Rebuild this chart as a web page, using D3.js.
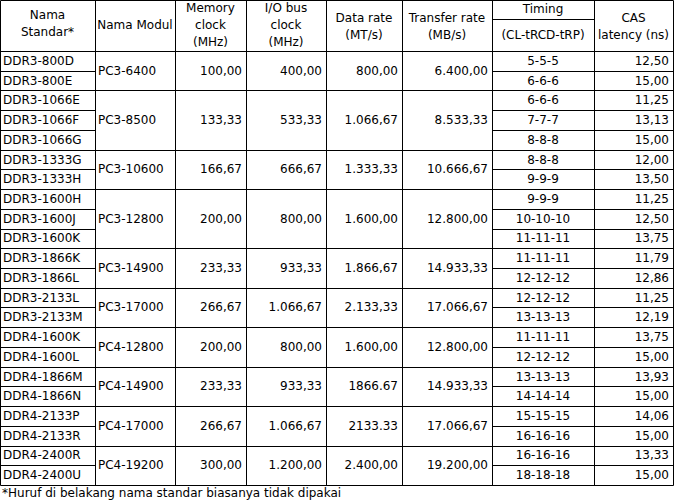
<!DOCTYPE html>
<html><head><meta charset="utf-8">
<script src="https://cdn.jsdelivr.net/npm/d3@7"></script>
<style>body{margin:0;background:#fff}text{font-family:Verdana,"DejaVu Sans",sans-serif;font-size:12px;fill:#000}</style>
</head><body><svg id="t" width="677" height="502"></svg>
<script>
const standards = ["DDR3-800D","DDR3-800E","DDR3-1066E","DDR3-1066F","DDR3-1066G","DDR3-1333G","DDR3-1333H","DDR3-1600H","DDR3-1600J","DDR3-1600K","DDR3-1866K","DDR3-1866L","DDR3-2133L","DDR3-2133M","DDR4-1600K","DDR4-1600L","DDR4-1866M","DDR4-1866N","DDR4-2133P","DDR4-2133R","DDR4-2400R","DDR4-2400U"];
const modules = ["PC3-6400","PC3-8500","PC3-10600","PC3-12800","PC3-14900","PC3-17000","PC4-12800","PC4-14900","PC4-17000","PC4-19200"];
const groupSize = [2,3,2,3,2,2,2,2,2,2];
const memClock = ["100,00","133,33","166,67","200,00","233,33","266,67","200,00","233,33","266,67","300,00"];
const ioClock = ["400,00","533,33","666,67","800,00","933,33","1.066,67","800,00","933,33","1.066,67","1.200,00"];
const dataRate = ["800,00","1.066,67","1.333,33","1.600,00","1.866,67","2.133,33","1.600,00","1866.67","2133.33","2.400,00"];
const transfer = ["6.400,00","8.533,33","10.666,67","12.800,00","14.933,33","17.066,67","12.800,00","14.933,33","17.066,67","19.200,00"];
const timing = ["5-5-5","6-6-6","6-6-6","7-7-7","8-8-8","8-8-8","9-9-9","9-9-9","10-10-10","11-11-11","11-11-11","12-12-12","12-12-12","13-13-13","11-11-11","12-12-12","13-13-13","14-14-14","15-15-15","16-16-16","16-16-16","18-18-18"];
const cas = ["12,50","15,00","11,25","13,13","15,00","12,00","13,50","11,25","12,50","13,75","11,79","12,86","11,25","12,19","13,75","15,00","13,93","15,00","14,06","15,00","13,33","15,00"];

const svg = d3.select("#t");
const colX = [0,95,175,246,326,402,492,594,673];
const headBot = 51, tableBot = 485;
const nRows = standards.length;
const y = d3.scaleLinear().domain([0, nRows]).range([headBot, tableBot]);
const line = (x1,y1,x2,y2) => svg.append("line").attr("x1",x1+0.5).attr("y1",y1+0.5).attr("x2",x2+0.5).attr("y2",y2+0.5).attr("stroke","#000").attr("stroke-width",1);
const txt = (x,yy,s,anchor) => svg.append("text").attr("x",x).attr("y",yy).attr("text-anchor",anchor).text(s);

// outer and header lines
line(0,0,colX[8],0);
line(0,headBot,colX[8],headBot);
line(0,tableBot,colX[8],tableBot);
colX.forEach(x => line(x,0,x,tableBot));
line(colX[6],19,colX[7],19);

// header
const mid = i => (colX[i]+colX[i+1])/2;
[[0,["Nama","Standar*"],15],[1,["Nama Modul"],25],[2,["Memory","clock","(MHz)"],8],[3,["I/O bus","clock","(MHz)"],8],
 [4,["Data rate","(MT/s)"],18],[5,["Transfer rate","(MB/s)"],18],[7,["CAS","latency (ns)"],18]].forEach(([c,lines,y0]) =>
  lines.forEach((l,k) => txt(mid(c), y0+k*17+4, l, "middle")));
txt(mid(6),13,"Timing","middle");
txt(mid(6),39,"(CL-tRCD-tRP)","middle");

// per-row cells
standards.forEach((s,i) => {
  const cy = (y(i)+y(i+1))/2 + 4;
  txt(3, cy, s, "start");
  txt(mid(6), cy, timing[i], "middle");
  txt(colX[8]-4, cy, cas[i], "end");
  if (i>0) { line(0,Math.round(y(i)),colX[1],Math.round(y(i))); line(colX[6],Math.round(y(i)),colX[8],Math.round(y(i))); }
});

// grouped cells
let start = 0;
modules.forEach((m,g) => {
  const end = start + groupSize[g];
  if (start>0) line(colX[1],Math.round(y(start)),colX[6],Math.round(y(start)));
  const cy = (y(start)+y(end))/2 + 4;
  txt(colX[1]+3, cy, m, "start");
  [memClock,ioClock,dataRate,transfer].forEach((arr,k) => txt(colX[3+k]-4, cy, arr[g], "end"));
  start = end;
});

txt(2, 497, "*Huruf di belakang nama standar biasanya tidak dipakai", "start");
</script></body></html>
